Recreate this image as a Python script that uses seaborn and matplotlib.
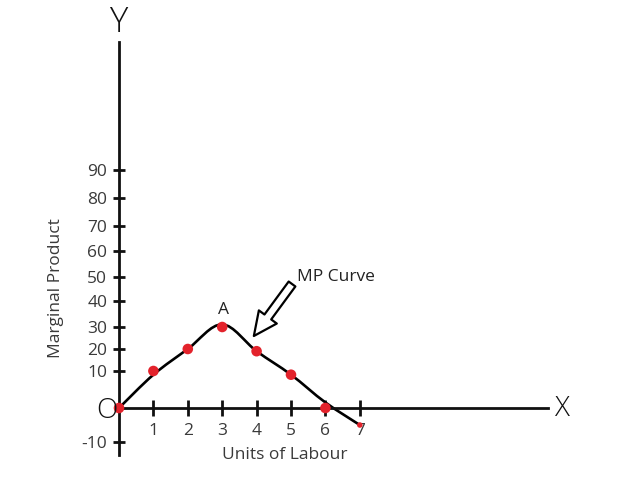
import numpy as np
import matplotlib
matplotlib.use("Agg")
import matplotlib.pyplot as plt
from matplotlib.path import Path
from matplotlib.patches import PathPatch
import seaborn as sns

# ---- data ----
units = [0, 1, 2, 3, 4, 5, 6, 7]
mp = [0, 10, 20, 30, 19, 9, 0, -5]           # red points
curve_mp = [0, 9, 20, 31, 19, 9, 1.5, -5]    # hand-drawn MP curve
x_ticks = [1, 2, 3, 4, 5, 6, 7]
y_ticks = [-10, 10, 20, 30, 40, 50, 60, 70, 80, 90]
x_label = "Units of Labour"
y_label = "Marginal Product"
curve_label = "MP Curve"
peak_label = "A"

sns.set_theme(style="white")
plt.rcParams['font.family'] = ['Open Sans', 'DejaVu Sans']

fig = plt.figure(figsize=(6.17, 4.91), dpi=100)
ax = fig.add_axes([0, 0, 1, 1])

# hand-drawn (uneven) spacing of the y axis ticks, in pixels above the x axis
val_knots = np.array([-60, -10, 0, 10, 20, 30, 40, 50, 60, 70, 80, 90, 300], float)
px_knots = np.array([-204, -34, 0, 37, 59, 81, 107, 131, 157, 182, 210, 238, 784], float)


def fwd(v):
    return np.interp(v, val_knots, px_knots)


def inv(p):
    return np.interp(p, px_knots, val_knots)


ax.set_yscale('function', functions=(fwd, inv))
PX = 34.4
ax.set_xlim(-119 / PX, 498 / PX)
ax.set_ylim(float(inv(-83)), float(inv(408)))

for s in ['top', 'right']:
    ax.spines[s].set_visible(False)
ax.spines['left'].set_position(('data', 0))
ax.spines['bottom'].set_position(('data', 0))
ax.spines['left'].set_bounds(float(inv(-47)), float(inv(366)))
ax.spines['bottom'].set_bounds(0, 429 / PX)
for s in ['left', 'bottom']:
    ax.spines[s].set_linewidth(2.0)
    ax.spines[s].set_color('#111111')

ax.set_xticks(x_ticks)
ax.set_xticklabels([str(t) for t in x_ticks])
ax.set_yticks(y_ticks)
ax.set_yticklabels([str(t) for t in y_ticks])
ax.tick_params(axis='both', bottom=True, left=True, direction='inout', width=2.0,
               color='#111111', labelsize=12.5, labelcolor='#3a3a3a')
ax.tick_params(axis='y', length=9, pad=4)
ax.tick_params(axis='x', length=12, pad=5)
ax.minorticks_off()

# smooth MP curve: Catmull-Rom bezier built in the axis' scaled space
P = np.column_stack([np.array(units, float), fwd(np.array(curve_mp, float)) / PX])
Pe = np.vstack([P[0], P, P[-1]])
verts = [P[0]]
codes = [Path.MOVETO]
for i in range(len(P) - 1):
    p0, p1, p2, p3 = Pe[i], Pe[i + 1], Pe[i + 2], Pe[i + 3]
    verts += [p1 + (p2 - p0) / 6, p2 - (p3 - p1) / 6, p2]
    codes += [Path.CURVE4] * 3
verts = np.array(verts)
verts[:, 1] *= PX
ax.add_patch(PathPatch(Path(verts, codes), fill=False, lw=1.9, ec='black', zorder=2,
                       transform=ax.transLimits + ax.transAxes))

red = '#e3222b'
sns.scatterplot(x=units[:-1], y=mp[:-1], s=58, color=red, edgecolor='none', zorder=3, ax=ax)
sns.scatterplot(x=units[-1:], y=mp[-1:], s=16, color=red, edgecolor='none', zorder=3, ax=ax)

# labels
ax.set_xlabel(x_label, fontsize=12.5, color='#3a3a3a')
ax.xaxis.set_label_coords(285 / 617, 1 - 455 / 491)
ax.xaxis.label.set_va('center')
ax.set_ylabel(y_label, fontsize=12.5, color='#3a3a3a')
ax.yaxis.set_label_coords(56 / 617, 1 - 288 / 491)
ax.yaxis.label.set_va('center')

ax.text(-0.03, float(inv(385)), "Y", fontsize=25, color='#111111', ha='center', va='center',
        fontweight='light')
ax.text(12.9, float(inv(-1)), "X", fontsize=20, color='#111111', ha='center', va='center',
        fontweight='light')
ax.text(-0.35, float(inv(-3)), "O", fontsize=20, color='#111111', ha='center', va='center',
        fontweight='light')
ax.text(3.05, float(inv(98)), peak_label, fontsize=12.5, color='#222222', ha='center', va='center')
ax.text(297 / PX - 119 / PX, float(inv(131)), curve_label, fontsize=12.5, color='#222222',
        ha='left', va='center')
ax.annotate('', xy=(3.92, float(inv(72))), xytext=(5.03, float(inv(124))),
            arrowprops=dict(arrowstyle='simple,head_width=16,head_length=17,tail_width=6',
                            mutation_scale=1, fc='white', ec='black', lw=1.6,
                            shrinkA=0, shrinkB=0))

fig.savefig('out.png', dpi=100)
